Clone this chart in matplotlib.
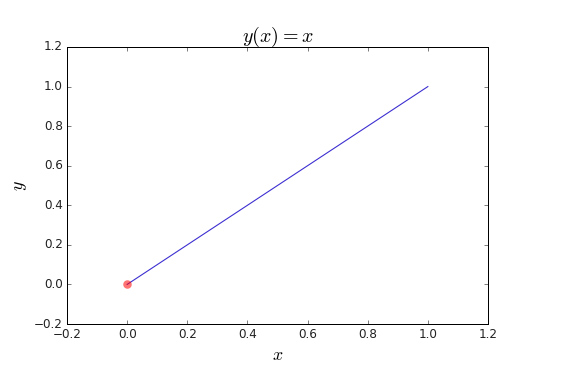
import numpy as np
import matplotlib
matplotlib.use('Agg')
import matplotlib.pyplot as plt

# data
line_x = [0.0, 1.0]
line_y = [0.0, 1.0]
point_x = [0.0]
point_y = [0.0]
ticks = [-0.2, 0.0, 0.2, 0.4, 0.6, 0.8, 1.0, 1.2]

plt.style.use('classic')
plt.rcParams['mathtext.fontset'] = 'cm'

fig = plt.figure(figsize=(573 / 72, 374 / 72), dpi=72)
ax = fig.add_axes([67 / 573, 50 / 374, 421 / 573, 277 / 374])

ax.plot(line_x, line_y, color='#3c2ed0', linewidth=1.1)
ax.plot(point_x, point_y, 'o', color='r', alpha=0.55, markersize=8.5, markeredgewidth=0)

ax.set_xlim(-0.2, 1.2)
ax.set_ylim(-0.2, 1.2)
ax.set_xticks(ticks)
ax.set_yticks(ticks)
ax.tick_params(labelsize=12, labelcolor='#222222')

ax.set_title(r'$y(x) = x$', fontsize=20)
ax.set_xlabel(r'$x$', fontsize=18)
ax.set_ylabel(r'$y$', fontsize=18)

fig.savefig('out.png', dpi=72)
